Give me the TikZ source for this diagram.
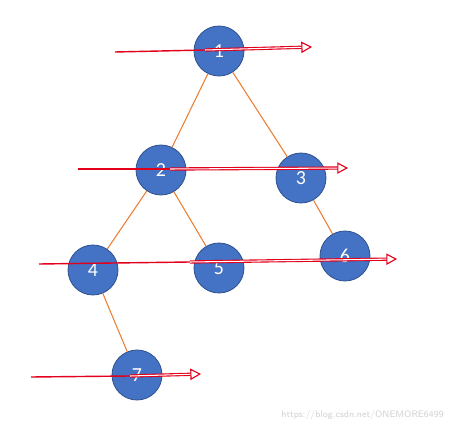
\documentclass[tikz,border=0pt]{standalone}
\usepackage{fontspec}
\setmainfont{Carlito}
\usepackage{tikz}
\usetikzlibrary{arrows.meta}
\definecolor{vblue}{HTML}{4472C4}
\definecolor{vblued}{HTML}{2F528F}
\definecolor{eorange}{HTML}{ED7D31}
\definecolor{sred}{HTML}{E3001B}
\tikzset{
  % Filled disc for a tree vertex.
  vtx/.style  = {circle, fill=vblue, draw=vblued, line width=0.7pt, minimum size=1.5cm,
                 inner sep=0pt, text=white, font=\fontsize{17}{17}\selectfont},
  edge/.style = {eorange, line width=0.9pt},
  scan/.style = {sred, line width=0.95pt, double=white, double distance=0.9pt,
                 -{Triangle[open, length=3.2mm, width=3.4mm]}},
  lead/.style = {sred, line width=1.2pt},
  wm/.style   = {font=\fontsize{8}{8}\selectfont\sffamily, text=black!18, anchor=east},
}

\begin{document}
\begin{tikzpicture}[x=0.03cm,y=-0.03cm]
\useasboundingbox (0,0) rectangle (474,429);
% vertices
\foreach \n/\x/\y in {1/219/51, 2/161/170, 3/301/178, 4/93/270, 5/219/268, 6/345/256, 7/137/375}
  \node[vtx] (v\n) at (\x,\y) {\n};
% tree edges
\foreach \a/\b in {1/2, 1/3, 2/4, 2/5, 3/6, 4/7}
  \draw[edge] (v\a) -- (v\b);
% level scan lines
\foreach \k/\xs/\ys/\xm/\ym/\xe/\ye in {a/115/52/205/50/312/47, b/78/169/170/169/348/168,
                                         c/39/264/190/262/397/259, d/31/377/130/376/201/374} {
  \coordinate (s\k) at (\xs,\ys);
  \coordinate (m\k) at (\xm,\ym);
  \coordinate (e\k) at (\xe,\ye);
  \draw[lead] (s\k) -- (m\k);
  \draw[scan] (m\k) -- (e\k);
}
\node[wm] (url) at (448,415) {https://blog.csdn.net/ONEMORE6499};
\end{tikzpicture}
\end{document}
